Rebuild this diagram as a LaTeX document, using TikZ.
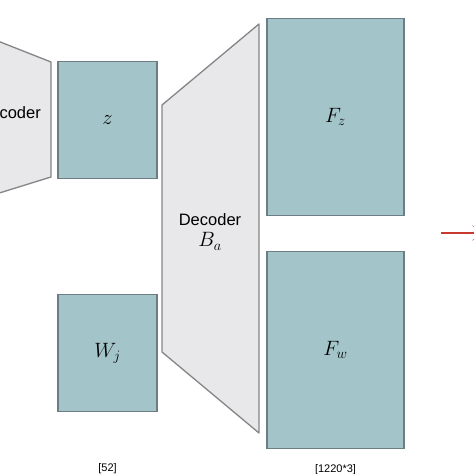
\documentclass[tikz,border=0pt]{standalone}
\usepackage{fontspec}
\setmainfont{Liberation Sans}
\usetikzlibrary{positioning,arrows.meta}
\definecolor{boxfill}{HTML}{A3C4C9}
\definecolor{boxline}{HTML}{6C7D83}
\definecolor{trapfill}{HTML}{E8E8EA}
\definecolor{trapline}{HTML}{858585}
\definecolor{arrowred}{HTML}{C8392E}
\tikzset{
    latent/.style={draw=boxline, fill=boxfill, line width=1.3pt, inner sep=0pt,
        minimum width=99pt, minimum height=117pt, font=\fontsize{21}{21}\selectfont},
    output/.style={latent, minimum width=137pt, minimum height=197pt},
    coder/.style={draw=trapline, fill=trapfill, line width=1.3pt, line join=round},
    dimlabel/.style={inner sep=0pt, font=\fontsize{11}{11}\selectfont}
}
\begin{document}
\begin{tikzpicture}[x=1pt,y=1pt]
    \useasboundingbox (0,0) rectangle (474,474);
    \fill[white] (0,0) rectangle (474,474);
    \draw[coder] (-20,440) -- (51,412) -- (51,297) -- (-20,275);
    \node[anchor=east, inner sep=0pt, font=\fontsize{16.5}{16.5}\selectfont] (enc) at (41,361) {coder};
    \draw[coder] (162,369) -- (259,450) -- (259,41) -- (162,122) -- cycle;
    \node[align=center, inner sep=0pt, font=\fontsize{16.5}{19}\selectfont] (dec) at (210,242) {Decoder\\[2pt] \fontsize{21}{21}\selectfont$B_a$};
    \node[latent] (z) at (107.5,354) {$z$};
    \node[latent, below=115pt of z] (wj) {$W_j$};
    \node[output] (fz) at (335.5,357) {$F_z$};
    \node[output, below=35pt of fz] (fw) {$F_w$};
    \node[dimlabel, below=51pt of wj] (zdim) {[52]};
    \node[dimlabel, below=15pt of fw] (fdim) {[1220*3]};
    \coordinate (arrstart) at (441,241);
    \coordinate (arrend) at (492,241);
    \draw[arrowred, line width=2.4pt, -{Stealth[length=20pt,width=15pt,inset=11pt]}] (arrstart) -- (arrend);
\end{tikzpicture}
\end{document}
